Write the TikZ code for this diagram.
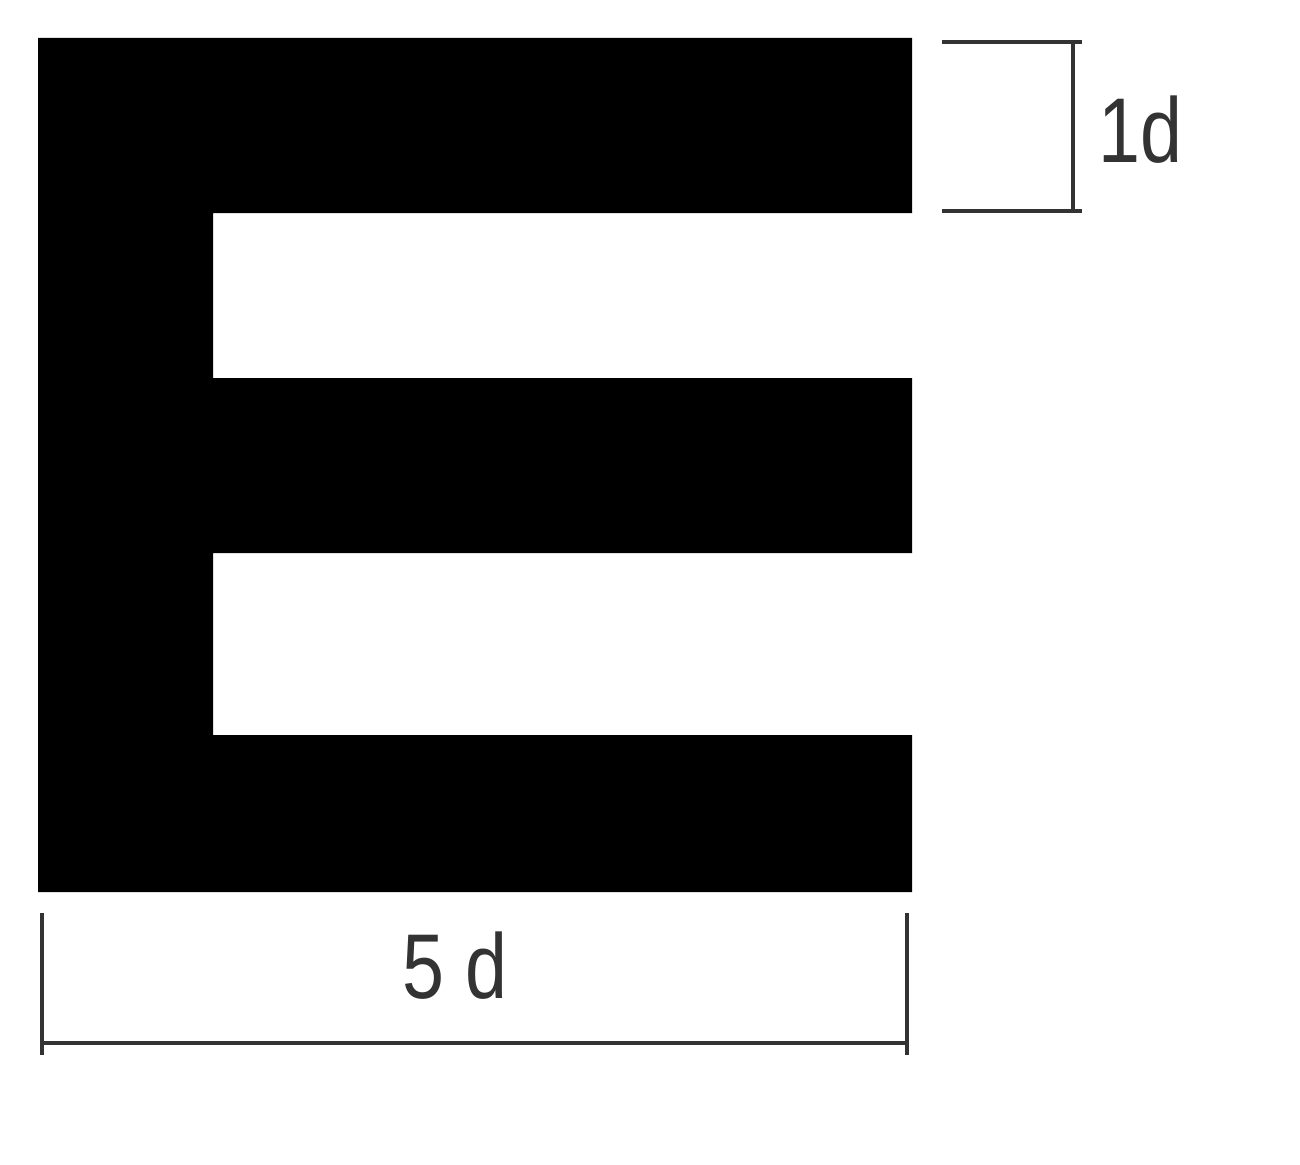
\documentclass[tikz,border=0pt]{standalone}
\usepackage{fontspec}
\setmainfont{Liberation Sans}
\begin{document}
\begin{tikzpicture}[x=1pt,y=-1pt,
  dimline/.style={draw=black!80,line width=4pt,line cap=butt},
  dimlabel/.style={text=black!80,inner sep=0pt,font=\fontsize{92}{92}\selectfont,xscale=0.82}]
\useasboundingbox (0,0) rectangle (1300,1164);
\fill[white] (0,0) rectangle (1300,1164);
% the E
\fill[black] (38,38) -- (912,38) -- (912,213) -- (213,213) -- (213,378)
  -- (912,378) -- (912,553) -- (213,553) -- (213,735) -- (912,735)
  -- (912,892) -- (38,892) -- cycle;
% right dimension (1d)
\coordinate (ta) at (942,42);
\coordinate (tb) at (1082,42);
\coordinate (ba) at (942,211);
\coordinate (bb) at (1082,211);
\coordinate (va) at (1073,42);
\coordinate (vb) at (1073,211);
\draw[dimline] (ta) -- (tb);
\draw[dimline] (ba) -- (bb);
\draw[dimline] (va) -- (vb);
\node[dimlabel] (oned) at (1140,130) {1d};
% bottom dimension (5 d)
\coordinate (la) at (42,913);
\coordinate (lb) at (42,1055);
\coordinate (ra) at (907,913);
\coordinate (rb) at (907,1055);
\coordinate (ha) at (42,1043);
\coordinate (hb) at (907,1043);
\draw[dimline] (la) -- (lb);
\draw[dimline] (ra) -- (rb);
\draw[dimline] (ha) -- (hb);
\node[dimlabel] (fived) at (455,966) {5 d};
\end{tikzpicture}
\end{document}
